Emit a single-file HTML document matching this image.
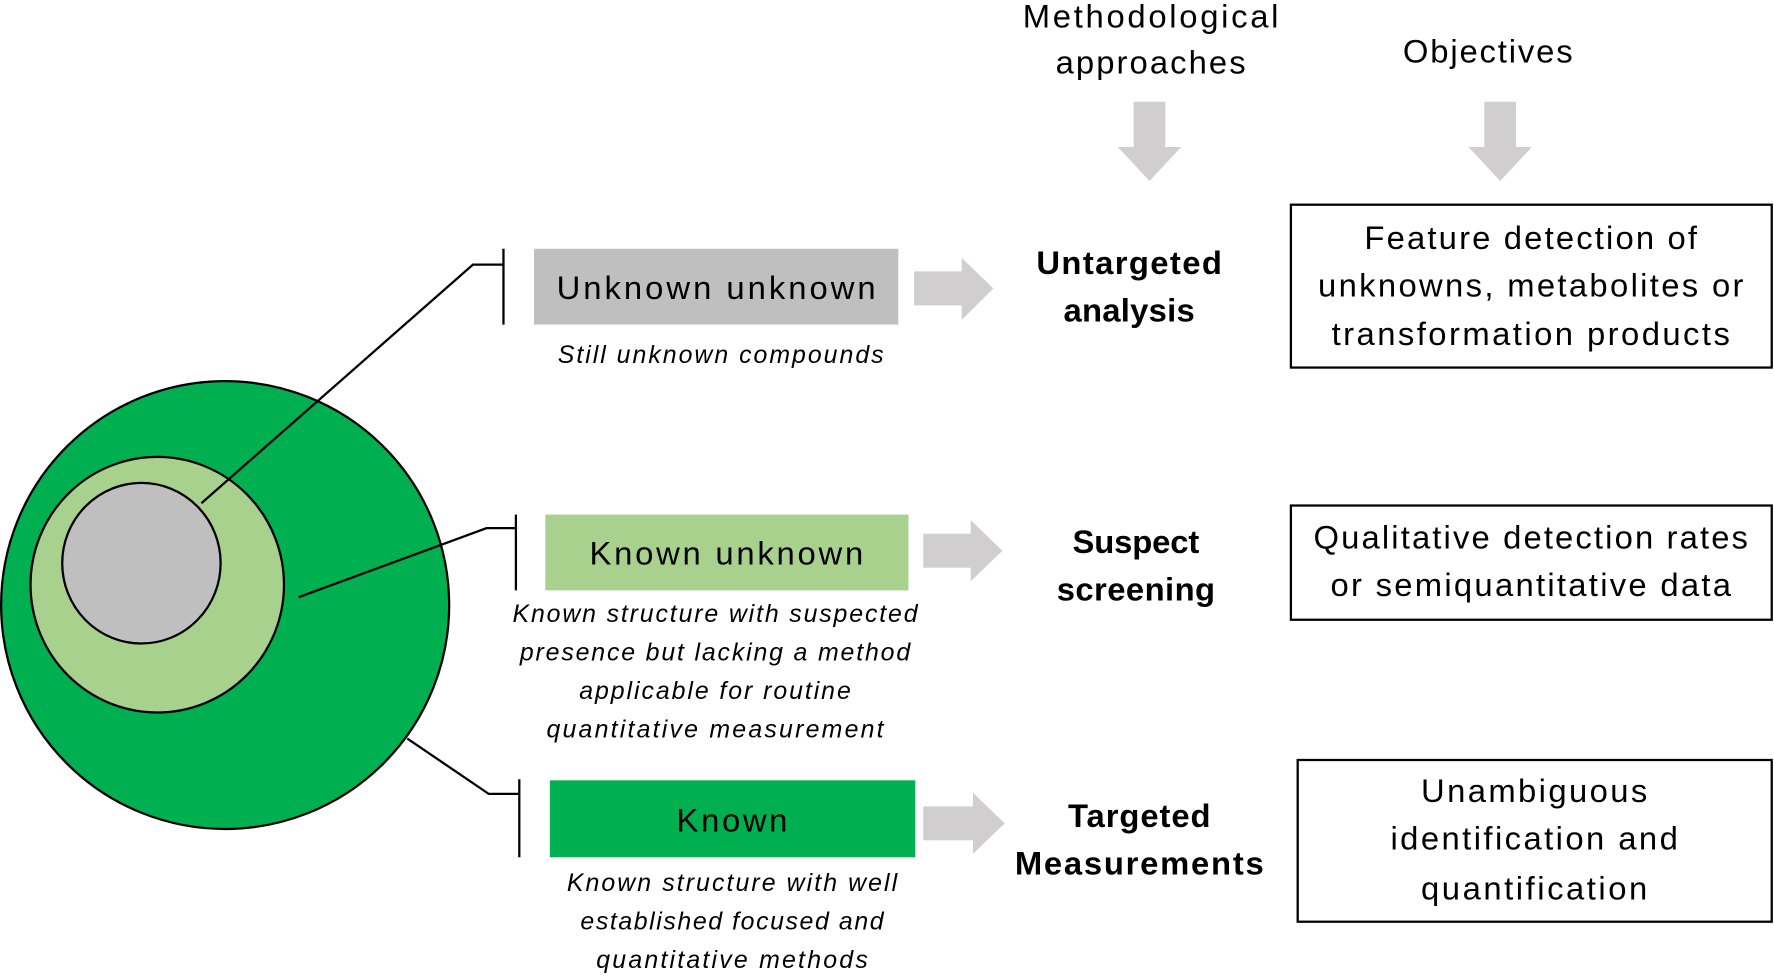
<!DOCTYPE html>
<html><head><meta charset="utf-8"><style>
html,body{margin:0;padding:0;background:#fff;}
svg{display:block;}
text{font-family:"Liberation Sans",sans-serif;fill:#000;}
.n{font-size:29px;}
.i{font-size:22px;font-style:italic;}
.b{font-size:29px;font-weight:bold;}
</style></head><body>
<svg width="1774" height="976" viewBox="0 0 1568 863" preserveAspectRatio="none" xmlns="http://www.w3.org/2000/svg">
<rect width="1568" height="863" fill="#fff"/>
<ellipse cx="199" cy="535" rx="198" ry="198" fill="#00b050" stroke="#000" stroke-width="2"/>
<ellipse cx="139" cy="517" rx="112" ry="113" fill="#a9d18e" stroke="#000" stroke-width="2"/>
<ellipse cx="125" cy="498" rx="70" ry="71" fill="#bfbfbf" stroke="#000" stroke-width="2"/>
<g stroke="#000" stroke-width="2" fill="none">
<polyline points="178,445 418,234 445,234"/><line x1="445" y1="220" x2="445" y2="287"/>
<polyline points="264,528 430,467 456,467"/><line x1="456" y1="455" x2="456" y2="522"/>
<polyline points="360,653 432,702 459,702"/><line x1="459" y1="689" x2="459" y2="758"/>
</g>
<rect x="472" y="220" width="322" height="67" fill="#bfbfbf"/>
<rect x="482" y="455" width="321" height="67" fill="#a9d18e"/>
<rect x="486" y="690" width="323" height="68" fill="#00b050"/>
<g text-anchor="middle" dominant-baseline="central">
<text class="n" x="633" y="254" textLength="282">Unknown unknown</text>
<text class="n" x="642" y="489" textLength="242">Known unknown</text>
<text class="n" x="647" y="725" textLength="98">Known</text>
<text class="i" x="637" y="314" textLength="288">Still unknown compounds</text>
<text class="i" x="632" y="543" textLength="358">Known structure with suspected</text>
<text class="i" x="632" y="577" textLength="345">presence but lacking a method</text>
<text class="i" x="632" y="611" textLength="240">applicable for routine</text>
<text class="i" x="632" y="645" textLength="298">quantitative measurement</text>
<text class="i" x="647" y="781" textLength="292">Known structure with well</text>
<text class="i" x="647" y="815" textLength="268">established focused and</text>
<text class="i" x="647" y="849" textLength="240">quantitative methods</text>
<text class="n" x="1017" y="14" textLength="226">Methodological</text>
<text class="n" x="1017" y="55" textLength="168">approaches</text>
<text class="n" x="1315" y="45" textLength="150">Objectives</text>
<text class="b" x="998" y="232" textLength="164">Untargeted</text>
<text class="b" x="998" y="274" textLength="116">analysis</text>
<text class="b" x="1004" y="479" textLength="112">Suspect</text>
<text class="b" x="1004" y="521" textLength="140">screening</text>
<text class="b" x="1007" y="721" textLength="126">Targeted</text>
<text class="b" x="1007" y="763" textLength="220">Measurements</text>
<text class="n" x="1353" y="210" textLength="294">Feature detection of</text>
<text class="n" x="1353" y="252" textLength="376">unknowns, metabolites or</text>
<text class="n" x="1353" y="295" textLength="352">transformation products</text>
<text class="n" x="1353" y="475" textLength="384">Qualitative detection rates</text>
<text class="n" x="1353" y="517" textLength="354">or semiquantitative data</text>
<text class="n" x="1356" y="699" textLength="200">Unambiguous</text>
<text class="n" x="1356" y="741" textLength="254">identification and</text>
<text class="n" x="1356" y="785" textLength="200">quantification</text>
</g>
<rect x="1141" y="181" width="425" height="144" fill="none" stroke="#000" stroke-width="2"/>
<rect x="1141" y="447" width="425" height="101" fill="none" stroke="#000" stroke-width="2"/>
<rect x="1147" y="672" width="419" height="143" fill="none" stroke="#000" stroke-width="2"/>
<g fill="#d0cece">
<polygon points="808,240 850,240 850,228 878,255 850,283 850,270 808,270"/>
<polygon points="816,472 858,472 858,460 886,487 858,514 858,502 816,502"/>
<polygon points="816,713 860,713 860,701 888,728 860,755 860,743 816,743"/>
<polygon points="1002,90 1030,90 1030,130 1044,130 1016,160 988,130 1002,130"/>
<polygon points="1312,90 1340,90 1340,130 1354,130 1326,160 1298,130 1312,130"/>
</g>
</svg>
</body></html>
